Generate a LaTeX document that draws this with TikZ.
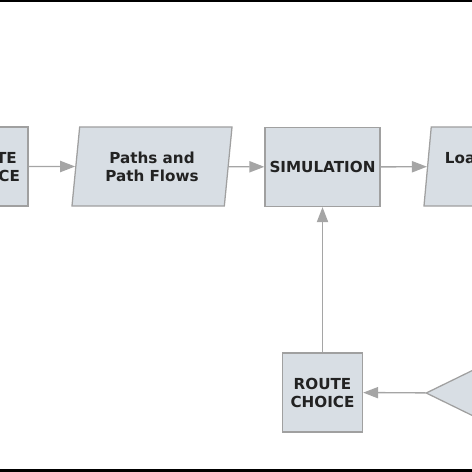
\documentclass[tikz,border=0pt]{standalone}
\usepackage{fontspec}
\setmainfont{DejaVu Sans}
\usepackage{tikz}
\usetikzlibrary{shapes.geometric,arrows.meta}
\definecolor{boxfill}{RGB}{216,222,228}
\definecolor{boxline}{RGB}{160,160,160}
\definecolor{arrowgray}{RGB}{165,165,165}
\definecolor{textdark}{RGB}{34,34,34}

\begin{document}
\begin{tikzpicture}[x=0.025cm,y=-0.025cm,
  txt/.style={font=\bfseries\fontsize{10.8}{12.8}\selectfont,text=textdark,align=center},
  proc/.style={txt,draw=boxline,fill=boxfill,line width=0.9pt,inner sep=0pt,minimum height=1.975cm},
  data/.style={proc,trapezium,trapezium left angle=75.5,trapezium right angle=104.5,
    trapezium stretches body,minimum width=4cm},
  decide/.style={draw=boxline,fill=boxfill,line width=0.9pt,diamond,inner sep=0pt,
    minimum width=2.75cm,minimum height=1.35cm},
  flow/.style={->,draw=arrowgray,line width=1pt,>={Triangle[length=0.375cm,width=0.28cm]}}]
  \useasboundingbox (0,0) rectangle (472,472);
  \clip (0,0) rectangle (472,472);
  \node[proc,minimum width=2cm](choiceL) at (-12,166.5) {ROUTE\\CHOICE};
  \node[data](paths) at (152,166.5) {Paths and\\Path Flows};
  \node[proc,minimum width=2.875cm](sim) at (322.5,167) {SIMULATION};
  \node[data,text width=2.95cm,align=left,text depth=0.425cm](loads) at (504,166.5) {Loa};
  \node[proc,minimum width=2cm](choice) at (322.5,392.5) {ROUTE\\CHOICE};
  \node[decide](dec) at (481,393) {};
  \draw[flow] (choiceL) -- (paths);
  \draw[flow] (paths) -- (sim);
  \draw[flow] (sim) -- (loads);
  \draw[flow] (choice) -- (sim);
  \draw[flow] (dec) -- (choice);
  % frame bars
  \fill[black] (0,0) rectangle (472,2);
  \fill[black] (0,469) rectangle (472,472);
\end{tikzpicture}
\end{document}
